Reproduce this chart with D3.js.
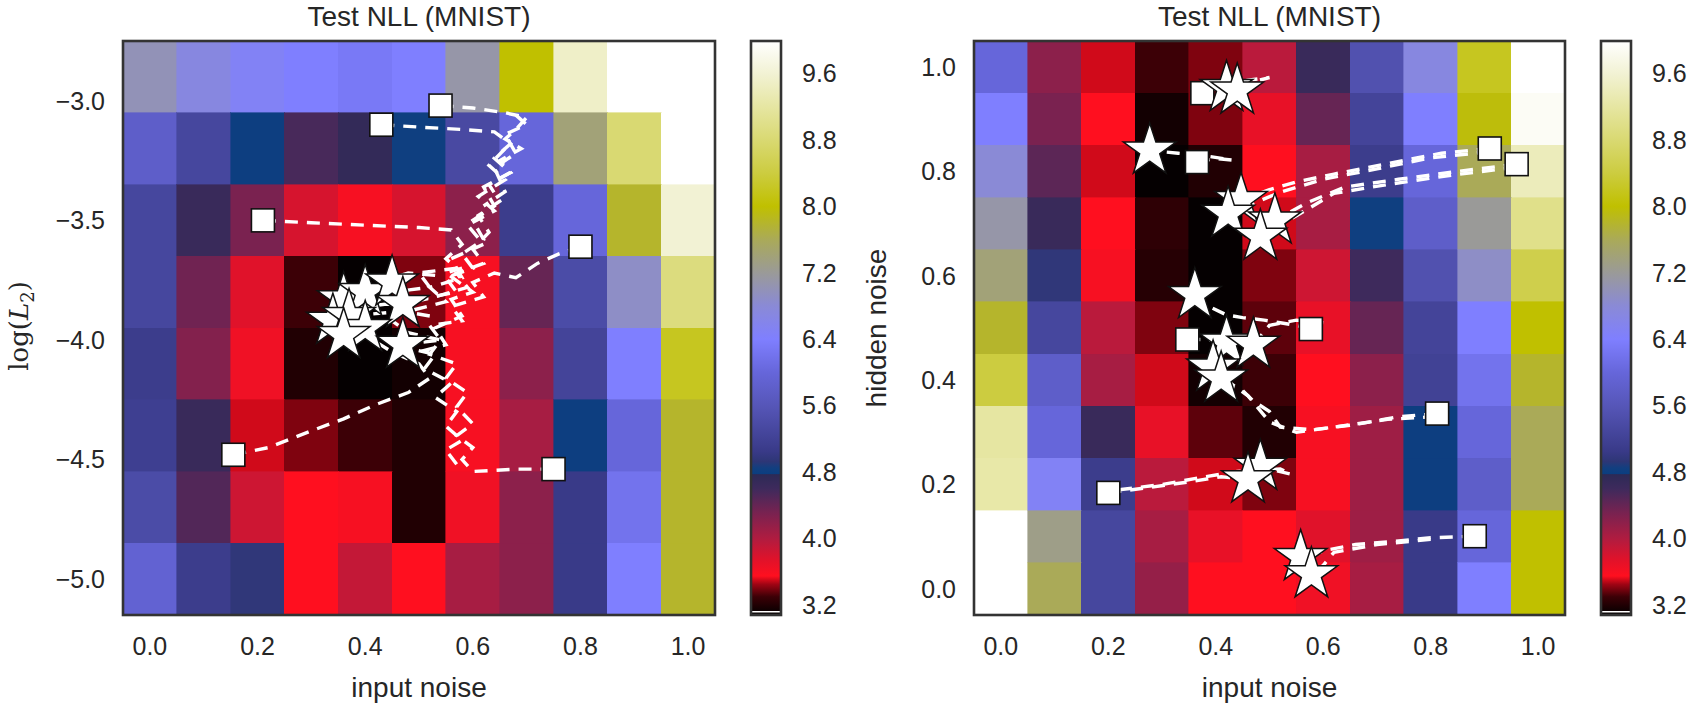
<!DOCTYPE html>
<html><head><meta charset="utf-8">
<script src="https://cdn.jsdelivr.net/npm/d3@7"></script>
<style>
html,body{margin:0;padding:0;background:#fff;}
text{font-family:"Liberation Sans",Arial,sans-serif;fill:#262626;}
</style></head>
<body>
<svg id="chart" width="1693" height="707"></svg>
<script>
// ---------------- DATA ----------------
const inputNoise = [0.0,0.1,0.2,0.3,0.4,0.5,0.6,0.7,0.8,0.9,1.0];
const logL2 = [-2.9,-3.2,-3.5,-3.8,-4.1,-4.4,-4.7,-5.0];
const hiddenNoise = [1.0,0.9,0.8,0.7,0.6,0.5,0.4,0.3,0.2,0.1,0.0];

// left heatmap: rows follow logL2, columns follow inputNoise
const leftNLL = [
  [7.0,6.7,6.5,6.4,6.3,6.4,7.1,8.0,9.5,10.0,10.0],
  [5.8,5.3,4.8,4.55,4.7,4.82,5.35,6.0,7.4,8.8,10.0],
  [5.3,4.65,4.3,3.8,3.6,3.8,4.2,5.1,6.0,7.8,9.6],
  [5.3,4.35,3.75,3.3,3.1,3.4,3.6,4.4,5.4,6.9,8.9],
  [5.1,4.25,3.65,3.2,3.1,3.15,3.6,4.2,5.25,6.4,8.2],
  [5.15,4.65,3.5,3.4,3.3,3.2,3.6,4.05,4.8,6.0,7.8],
  [5.4,4.5,3.85,3.55,3.6,3.2,3.65,4.2,5.05,6.2,7.8],
  [5.9,5.1,4.95,3.55,3.9,3.55,4.05,4.2,5.05,6.4,7.8]
];
// right heatmap: rows follow hiddenNoise, columns follow inputNoise
const rightNLL = [
  [6.0,4.2,3.5,3.3,3.4,3.95,4.65,5.5,6.7,8.2,10.0],
  [6.4,4.3,3.55,3.15,3.4,3.7,4.4,5.25,6.4,7.95,9.9],
  [6.8,4.45,3.5,3.1,3.2,3.55,4.05,5.1,6.0,7.6,9.4],
  [7.1,4.65,3.55,3.25,3.1,3.5,4.05,4.82,5.8,7.2,9.0],
  [7.4,4.95,3.6,3.22,3.1,3.4,3.85,4.6,5.5,6.9,8.5],
  [7.8,5.3,3.95,3.4,3.1,3.35,3.7,4.4,5.25,6.4,8.0],
  [8.4,5.8,4.05,3.5,3.15,3.3,3.55,4.2,5.2,6.2,7.8],
  [9.2,6.0,4.65,3.7,3.35,3.2,3.6,4.1,4.8,6.0,7.6],
  [9.25,6.5,5.1,3.95,3.5,3.4,3.6,4.1,4.8,5.8,7.6],
  [10.0,7.3,5.3,4.05,3.7,3.55,3.75,4.1,5.05,6.0,8.0],
  [10.0,7.6,5.3,4.15,3.55,3.55,3.65,4.05,5.05,6.4,8.0]
];

const xTicks = [0.0,0.2,0.4,0.6,0.8,1.0];
const leftYTicks = [-3.0,-3.5,-4.0,-4.5,-5.0];
const rightYTicks = [0.0,0.2,0.4,0.6,0.8,1.0];
const cbarTicks = [3.2,4.0,4.8,5.6,6.4,7.2,8.0,8.8,9.6];
const cbarRange = [3.08,9.99];

// colormap stops (value -> colour)
const cmapValues = [3.08,3.3,3.45,3.55,3.75,4.0,4.3,4.6,4.77,4.78,4.85,4.93,5.05,5.6,6.0,6.4,6.8,7.2,7.6,8.0,8.4,8.8,9.2,9.6,9.99];
const cmapColors = ["#000000","#3c0006","#a00414","#ff0f1f","#e0122a","#b01c40","#7a2250","#3e2a5c","#2c2a56","#0b3e80","#123f80","#2e3676","#393a88","#5656b8","#6666da","#7f7fff","#8a8ad6","#9a9a98","#aaaa58","#c0c000","#cccc40","#d9d972","#e6e6a2","#f2f2d4","#ffffff"];

// optimisation runs (input noise, log L2) on the left
const leftSquares = [[0.54,-3.02],[0.43,-3.1],[0.21,-3.5],[0.80,-3.61],[0.155,-4.48],[0.75,-4.54]];
const leftTracks = [
  [[0.54,-3.02],[0.60,-3.03],[0.66,-3.05],[0.70,-3.07],[0.68,-3.12],[0.66,-3.16],[0.69,-3.2],[0.65,-3.25],[0.67,-3.3],[0.63,-3.35],[0.65,-3.42],[0.61,-3.48],[0.63,-3.55],[0.60,-3.62],[0.62,-3.68],[0.57,-3.72],[0.59,-3.78],[0.53,-3.82],[0.47,-3.85]],
  [[0.43,-3.1],[0.50,-3.11],[0.58,-3.12],[0.64,-3.13],[0.67,-3.18],[0.64,-3.24],[0.67,-3.3],[0.62,-3.36],[0.64,-3.44],[0.60,-3.5],[0.62,-3.58],[0.58,-3.64],[0.60,-3.7],[0.55,-3.74],[0.57,-3.8],[0.50,-3.83],[0.45,-3.76]],
  [[0.21,-3.5],[0.30,-3.51],[0.40,-3.52],[0.50,-3.53],[0.56,-3.54],[0.58,-3.6],[0.55,-3.66],[0.57,-3.7],[0.50,-3.72],[0.52,-3.78],[0.45,-3.8],[0.40,-3.80]],
  [[0.80,-3.61],[0.76,-3.64],[0.72,-3.68],[0.68,-3.74],[0.64,-3.72],[0.60,-3.76],[0.62,-3.82],[0.56,-3.86],[0.58,-3.92],[0.52,-3.94],[0.54,-4.0],[0.47,-4.02]],
  [[0.155,-4.48],[0.22,-4.45],[0.30,-4.38],[0.36,-4.33],[0.42,-4.27],[0.48,-4.22],[0.52,-4.16],[0.50,-4.1],[0.45,-4.05],[0.40,-3.98],[0.36,-3.98]],
  [[0.75,-4.54],[0.68,-4.54],[0.60,-4.55],[0.58,-4.5],[0.60,-4.45],[0.57,-4.4],[0.60,-4.35],[0.57,-4.28],[0.59,-4.22],[0.55,-4.16],[0.57,-4.1],[0.52,-4.06],[0.54,-4.0],[0.48,-3.97],[0.45,-3.92],[0.40,-3.95]],
  [[0.52,-3.9],[0.47,-3.88],[0.42,-3.89],[0.37,-3.9]],
  [[0.49,-3.86],[0.44,-3.85],[0.40,-3.86],[0.34,-3.92]],
  [[0.53,-3.73],[0.48,-3.72],[0.42,-3.76],[0.36,-3.83]],
  [[0.66,-3.2],[0.63,-3.27],[0.66,-3.33],[0.61,-3.4],[0.64,-3.46],[0.59,-3.52],[0.62,-3.6],[0.56,-3.66],[0.58,-3.74],[0.52,-3.78],[0.55,-3.84],[0.48,-3.88]],
  [[0.57,-4.52],[0.55,-4.46],[0.58,-4.42],[0.55,-4.36],[0.57,-4.3],[0.53,-4.24],[0.56,-4.18],[0.51,-4.12],[0.53,-4.06],[0.47,-4.03]],
  [[0.68,-3.06],[0.70,-3.1],[0.66,-3.14],[0.68,-3.22],[0.64,-3.28],[0.66,-3.38],[0.62,-3.44]],
  [[0.58,-3.7],[0.55,-3.72],[0.60,-3.8],[0.56,-3.83],[0.58,-3.9],[0.53,-3.95],[0.55,-4.02],[0.50,-4.05]]
];
const leftStars = [[0.36,-3.83],[0.40,-3.80],[0.45,-3.76],[0.47,-3.85],[0.34,-3.92],[0.37,-3.90],[0.40,-3.95],[0.36,-3.98],[0.47,-4.02]];

// optimisation runs (input noise, hidden noise) on the right
const rightSquares = [[0.375,0.95],[0.365,0.818],[0.91,0.844],[0.96,0.814],[0.577,0.498],[0.347,0.478],[0.812,0.336],[0.20,0.184],[0.882,0.101]];
const rightTracks = [
  [[0.375,0.95],[0.42,0.965],[0.46,0.975],[0.50,0.98],[0.47,0.972],[0.44,0.96]],
  [[0.365,0.818],[0.40,0.825],[0.43,0.822],[0.38,0.83],[0.33,0.835],[0.28,0.84]],
  [[0.91,0.844],[0.82,0.835],[0.72,0.815],[0.62,0.795],[0.55,0.78],[0.50,0.765],[0.447,0.745]],
  [[0.91,0.838],[0.80,0.826],[0.70,0.805],[0.60,0.785],[0.52,0.76],[0.423,0.719]],
  [[0.96,0.814],[0.85,0.80],[0.74,0.785],[0.64,0.77],[0.57,0.74],[0.51,0.706]],
  [[0.96,0.808],[0.84,0.793],[0.72,0.775],[0.62,0.758],[0.55,0.715],[0.483,0.675]],
  [[0.577,0.498],[0.55,0.505],[0.52,0.51],[0.49,0.515],[0.45,0.52],[0.42,0.525],[0.39,0.54],[0.36,0.563]],
  [[0.60,0.51],[0.55,0.515],[0.50,0.505],[0.47,0.468]],
  [[0.347,0.478],[0.38,0.478],[0.42,0.472]],
  [[0.812,0.336],[0.74,0.33],[0.66,0.315],[0.58,0.305],[0.52,0.31],[0.50,0.34],[0.47,0.36],[0.45,0.38],[0.42,0.39],[0.41,0.403]],
  [[0.81,0.33],[0.72,0.325],[0.62,0.31],[0.55,0.30],[0.50,0.32],[0.46,0.37],[0.42,0.40],[0.395,0.424]],
  [[0.20,0.184],[0.28,0.195],[0.35,0.205],[0.41,0.215],[0.46,0.21]],
  [[0.22,0.19],[0.30,0.20],[0.38,0.215],[0.44,0.225],[0.52,0.23],[0.54,0.22],[0.483,0.234]],
  [[0.882,0.101],[0.80,0.098],[0.72,0.09],[0.66,0.085],[0.61,0.075],[0.558,0.061]],
  [[0.80,0.095],[0.70,0.085],[0.62,0.07],[0.60,0.045],[0.578,0.028]]
];
const rightStars = [[0.42,0.96],[0.44,0.955],[0.277,0.84],[0.447,0.745],[0.423,0.719],[0.51,0.706],[0.483,0.675],[0.361,0.563],[0.42,0.472],[0.47,0.468],[0.395,0.424],[0.41,0.403],[0.483,0.234],[0.46,0.21],[0.558,0.061],[0.578,0.028]];

// ---------------- DRAWING ----------------
const svg = d3.select("#chart");
const color = d3.scaleLinear().domain(cmapValues).range(cmapColors).interpolate(d3.interpolateRgb).clamp(true);
const fmt = d => d3.format(".1f")(d).replace("-", "\u2212");

function panel(opts){
  const g = svg.append("g");
  const x = d3.scaleLinear().domain([-0.05,1.05]).range([opts.x0,opts.x1]);
  const y = d3.scaleLinear().domain(opts.yDomain).range([opts.y1,opts.y0]);
  const half = opts.rowStep/2;
  // cells
  opts.rows.forEach((rv,ri)=>{
    g.selectAll(null).data(opts.values[ri]).enter().append("rect")
      .attr("x",(d,ci)=>x(inputNoise[ci]-0.05))
      .attr("width",x(0.1)-x(0))
      .attr("y",y(rv+half))
      .attr("height",y(rv-half)-y(rv+half))
      .attr("fill",d=>color(d))
      .attr("stroke",d=>color(d)).attr("stroke-width",0.6)
      .attr("shape-rendering","crispEdges");
  });
  // tracks
  const line = d3.line().x(d=>x(d[0])).y(d=>y(d[1])).curve(d3.curveLinear);
  g.selectAll(null).data(opts.tracks).enter().append("path")
    .attr("d",line).attr("fill","none").attr("stroke","#fff")
    .attr("stroke-width",3.4).attr("stroke-dasharray","13,9").attr("stroke-linecap","butt");
  // squares
  const sq = 23;
  g.selectAll(null).data(opts.squares).enter().append("rect")
    .attr("x",d=>x(d[0])-sq/2).attr("y",d=>y(d[1])-sq/2)
    .attr("width",sq).attr("height",sq)
    .attr("fill","#fff").attr("stroke","#111").attr("stroke-width",1.6);
  // stars
  const star = d3.symbol().type(d3.symbolStar).size(860);
  g.selectAll(null).data(opts.stars).enter().append("path")
    .attr("d",star).attr("transform",d=>`translate(${x(d[0])},${y(d[1])})`)
    .attr("fill","#fff").attr("stroke","#111").attr("stroke-width",1.5).attr("stroke-linejoin","miter");
  // frame
  g.append("rect").attr("x",opts.x0).attr("y",opts.y0).attr("width",opts.x1-opts.x0).attr("height",opts.y1-opts.y0)
    .attr("fill","none").attr("stroke","#333").attr("stroke-width",2.6);
  // x ticks
  g.selectAll(null).data(xTicks).enter().append("text")
    .attr("x",d=>x(d)).attr("y",opts.y1+40).attr("text-anchor","middle")
    .style("font-size","25px").text(fmt);
  // y ticks
  g.selectAll(null).data(opts.yTicks).enter().append("text")
    .attr("x",opts.x0-18).attr("y",d=>y(d)).attr("dy","0.35em").attr("text-anchor","end")
    .style("font-size","25px").text(fmt);
  // title
  g.append("text").attr("x",(opts.x0+opts.x1)/2).attr("y",26).attr("text-anchor","middle")
    .style("font-size","28px").text("Test NLL (MNIST)");
  // x label
  g.append("text").attr("x",(opts.x0+opts.x1)/2).attr("y",opts.y1+82).attr("text-anchor","middle")
    .style("font-size","28px").text("input noise");
  // colorbar
  const cb = d3.scaleLinear().domain(cbarRange).range([opts.y1,opts.y0]);
  const gradId = "grad"+opts.id;
  const grad = svg.append("defs").append("linearGradient").attr("id",gradId)
    .attr("x1",0).attr("y1",1).attr("x2",0).attr("y2",0);
  cmapValues.forEach(v=>{
    grad.append("stop").attr("offset",(v-cbarRange[0])/(cbarRange[1]-cbarRange[0])).attr("stop-color",color(v));
  });
  g.append("rect").attr("x",opts.cbx).attr("y",opts.y0).attr("width",30).attr("height",opts.y1-opts.y0)
    .attr("fill",`url(#${gradId})`);
  g.append("rect").attr("x",opts.cbx).attr("y",cb(cbarRange[0])-4).attr("width",30).attr("height",1.5).attr("fill","#fff");
  g.append("rect").attr("x",opts.cbx).attr("y",opts.y0).attr("width",30).attr("height",opts.y1-opts.y0)
    .attr("fill","none").attr("stroke","#333").attr("stroke-width",2.6);
  g.selectAll(null).data(cbarTicks).enter().append("text")
    .attr("x",opts.cbx+51).attr("y",d=>cb(d)).attr("dy","0.35em")
    .style("font-size","25px").text(fmt);
  return {g,x,y};
}

const L = panel({id:"L",x0:123,x1:715,y0:41,y1:615,cbx:751,yDomain:[-5.15,-2.75],rowStep:0.3,
  rows:logL2,values:leftNLL,tracks:leftTracks,squares:leftSquares,stars:leftStars,yTicks:leftYTicks});
const R = panel({id:"R",x0:974,x1:1565,y0:41,y1:615,cbx:1601,yDomain:[-0.05,1.05],rowStep:0.1,
  rows:hiddenNoise,values:rightNLL,tracks:rightTracks,squares:rightSquares,stars:rightStars,yTicks:rightYTicks});

// y labels
const yl = svg.append("text").attr("transform","translate(28,326) rotate(-90)").attr("text-anchor","middle")
  .style("font-family","'DejaVu Serif','Liberation Serif',serif").style("font-size","26px");
yl.append("tspan").text("log(");
yl.append("tspan").style("font-style","italic").text("L");
yl.append("tspan").attr("dy",6).style("font-size","18px").text("2");
yl.append("tspan").attr("dy",-6).text(")");
svg.append("text").attr("transform","translate(886,328) rotate(-90)").attr("text-anchor","middle")
  .style("font-size","28px").text("hidden noise");
</script>
</body></html>
